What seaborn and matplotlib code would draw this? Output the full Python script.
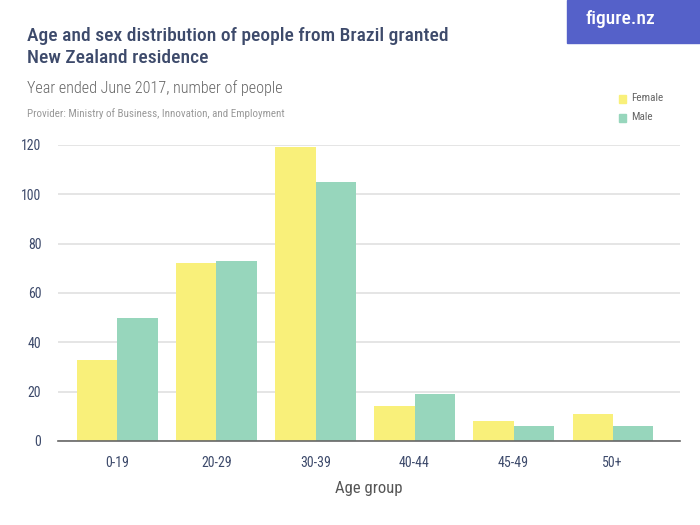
import pandas as pd
import numpy as np
import seaborn as sns
import matplotlib.pyplot as plt
from matplotlib.patches import Rectangle

age_groups = ["0-19", "20-29", "30-39", "40-44", "45-49", "50+"]
female = [33, 72, 119, 14, 8, 11]
male = [50, 73, 105, 19, 6, 6]
y_ticks = [0, 20, 40, 60, 80, 100, 120]

df = pd.DataFrame({
    "Age group": age_groups * 2,
    "count": female + male,
    "Sex": ["Female"] * len(female) + ["Male"] * len(male),
})

sns.set_theme(style="white")
plt.rcParams["font.family"] = ["Roboto Condensed", "Liberation Sans", "DejaVu Sans"]

fig = plt.figure(figsize=(7, 5.25), dpi=100)
ax = fig.add_axes([58 / 700, 1 - 441 / 525, (680 - 58) / 700, (441 - 145) / 525])

sns.barplot(data=df, x="Age group", y="count", hue="Sex",
            palette={"Female": "#f9f07a", "Male": "#97d6bc"},
            width=0.81, saturation=1, linewidth=0, legend=False, ax=ax, zorder=3)

ax.set_xlim(-0.6, 5.68)
ax.set_ylim(0, 120)
ax.set_yticks(y_ticks)
ax.set_yticklabels([str(v) for v in y_ticks])
ax.grid(axis="y", color="#e3e3e3", linewidth=1.3, zorder=0)
ax.set_axisbelow(True)
for s in ["top", "right", "left"]:
    ax.spines[s].set_visible(False)
ax.spines["bottom"].set_color("#666666")
ax.spines["bottom"].set_linewidth(1.2)
ax.spines["bottom"].set_zorder(5)
ax.tick_params(axis="x", length=6, width=1.2, color="#aaaaaa", labelsize=10,
               labelcolor="#3d4a6b", pad=5)
ax.tick_params(axis="y", length=0, labelsize=10, labelcolor="#3d4a6b", pad=12)
ax.set_xlabel("Age group", fontsize=12, color="#555555", labelpad=8)
ax.set_ylabel("")

fig.text(27 / 700, 1 - 47 / 525, "Age and sex distribution of people from Brazil granted\nNew Zealand residence",
         fontsize=14, color="#3d4a6b", va="center", ha="left", linespacing=1.3,
         fontweight="medium")
fig.text(27 / 700, 1 - 88 / 525, "Year ended June 2017, number of people",
         fontsize=11.6, color="#666666", va="center", ha="left", fontweight="light")
fig.text(27 / 700, 1 - 114 / 525, "Provider: Ministry of Business, Innovation, and Employment",
         fontsize=7.9, color="#999999", va="center", ha="left")

# legend
for i, (lab, col) in enumerate([("Female", "#f9f07a"), ("Male", "#97d6bc")]):
    y = 98 + i * 19
    fig.patches.append(Rectangle((619 / 700, 1 - (y + 5) / 525), 7 / 700, 8 / 525,
                                 transform=fig.transFigure, color=col))
    fig.text(631 / 700, 1 - y / 525, lab, fontsize=8, color="#666666", va="center")

# logo
fig.patches.append(Rectangle((567 / 700, 1 - 43 / 525), 133 / 700, 43 / 525,
                             transform=fig.transFigure, color="#5561c9"))
fig.text(620 / 700, 1 - 19 / 525, "figure.nz", fontsize=14, color="white",
         ha="center", va="center", fontweight="medium")

fig.savefig("out.png", dpi=100)
